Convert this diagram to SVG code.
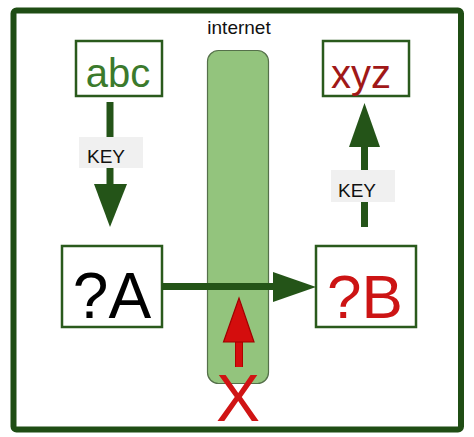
<svg xmlns="http://www.w3.org/2000/svg" width="474" height="437" viewBox="0 0 474 437">
<defs>
<style>
.box{fill:#fff;stroke:#2a5a1c;stroke-width:2.5}
.big{font-family:"Liberation Sans",Arial,sans-serif}
.key{fill:#f0f0f0}
.keyt{font-family:"Liberation Sans",Arial,sans-serif;font-size:19px;fill:#111}
.g{fill:#245418}
.gl{stroke:#245418;stroke-width:7;fill:none}
</style>
</defs>
<rect width="474" height="437" fill="#fff"/>
<rect id="frame" x="13.5" y="10.5" width="447.5" height="419" rx="3" fill="none" stroke="#1f4d14" stroke-width="6"/>
<g id="internet">
<rect x="207.5" y="50.5" width="61" height="333" rx="11" fill="#93c47d" stroke="#55704a" stroke-width="1.2"/>
<text x="239" y="34" text-anchor="middle" class="big" font-size="19" fill="#111">internet</text>
</g>
<g id="abc">
<rect class="box" x="76" y="41" width="86" height="55"/>
<text x="118" y="87" text-anchor="middle" class="big" font-size="40" fill="#3b7a2c">abc</text>
</g>
<g id="xyz">
<rect class="box" x="323" y="41" width="86" height="55"/>
<text x="361" y="88" text-anchor="middle" class="big" font-size="40" fill="#a01818">xyz</text>
</g>
<g id="qA">
<rect class="box" x="62" y="246" width="100" height="81"/>
<text x="112" y="318" text-anchor="middle" class="big" font-size="64" fill="#000">?A</text>
</g>
<g id="qB">
<rect class="box" x="316" y="246" width="100" height="81"/>
<text x="365" y="318" text-anchor="middle" class="big" font-size="62" fill="#cc1414">?B</text>
</g>
<g id="connectors">
<line class="gl" x1="110" y1="102" x2="110" y2="185"/>
<polygon class="g" points="94,184 127,184 110,227"/>
<rect class="key" x="79" y="137" width="64" height="31"/>
<text class="keyt" x="87" y="163">KEY</text>
<line class="gl" x1="364.5" y1="146" x2="364.5" y2="227" stroke-width="6"/>
<polygon class="g" points="349,147 380,147 364.5,103"/>
<rect class="key" x="331" y="170" width="64" height="32"/>
<text class="keyt" x="338" y="197">KEY</text>
<line class="gl" x1="162" y1="286.5" x2="275" y2="286.5"/>
<polygon class="g" points="273,272 273,302 316,287"/>
<line x1="239" y1="340" x2="239" y2="367" stroke="#b00000" stroke-width="8"/>
<line x1="239" y1="340" x2="239" y2="367" stroke="#d40d0d" stroke-width="6"/>
<polygon points="223.5,342 254,342 239,298" fill="#d40d0d" stroke="#a00000" stroke-width="1.2"/>
</g>
<g id="X">
<text x="238" y="421" text-anchor="middle" class="big" font-size="66" fill="#d01414">X</text>
</g>
</svg>
